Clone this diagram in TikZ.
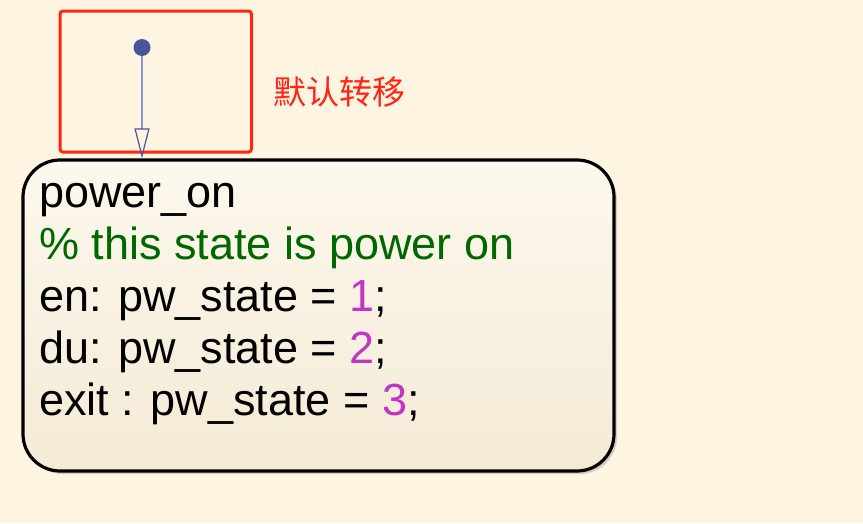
\documentclass[tikz,border=0pt]{standalone}
\usepackage{fontspec}
\setmainfont{Liberation Sans}
\newfontfamily\cjk{Noto Sans CJK SC}
\usetikzlibrary{arrows.meta,shadows}
\definecolor{paper}{RGB}{253,244,225}
\definecolor{boxtop}{RGB}{253,248,237}
\definecolor{boxbottom}{RGB}{244,235,214}
\definecolor{framered}{RGB}{255,36,20}
\definecolor{dotblue}{RGB}{74,84,155}
\definecolor{wireblue}{RGB}{140,150,205}
\definecolor{commentgreen}{RGB}{0,104,0}
\definecolor{numpurple}{RGB}{196,52,196}
\NewDocumentCommand{\num}{m}{\textcolor{numpurple}{#1}}
\tikzset{/SF/state/.style={
	shape=rectangle, rounded corners=37pt, draw=black, line width=3.2pt,
	top color=boxtop, bottom color=boxbottom,
	drop shadow={shadow xshift=3pt, shadow yshift=-3pt, opacity=0.22, fill=black!70}
}}
\tikzset{/SF/frame/.style={
	shape=rectangle, rounded corners=3pt, draw=framered, line width=3pt
}}
\tikzset{/SF/line/.style={
	anchor=base west, inner sep=0pt, font=\fontsize{45}{52}\selectfont
}}

\begin{document}
\begin{tikzpicture}
			\fill[paper] (0,0) rectangle (863pt,-523pt);
			\useasboundingbox (0,0) rectangle (863pt,-523pt);
			\path (155.75pt,-81.5pt) node[/SF/frame, minimum width=191.5pt, minimum height=141pt] (frame) {};
			\path (318.5pt,-315.5pt) node[/SF/state, minimum width=591pt, minimum height=311pt] (state) {};
			\path (142pt,-47.5pt) node[shape=circle, fill=dotblue, minimum size=17pt, inner sep=0pt] (dot) {};
			\draw[wireblue, line width=1.2pt, -{Triangle[open, length=30pt, width=15pt, color=dotblue]}]
				(dot) -- (dot |- state.north);
			\path (frame.east) ++(20.5pt,-11pt) node[anchor=west, inner sep=0pt, text=framered, font=\cjk\fontsize{33}{36}\selectfont] (label) {默认转移};
			% state text, one line per node
			\path (state.north west) ++(17.5pt,-49pt) node[/SF/line] (name) {power\_on};
			\path (name.base west) ++(0,-52pt) node[/SF/line, text=commentgreen] (comment) {\% this state is power on};
			\path (comment.base west) ++(0,-52pt) node[/SF/line] (entry) {en: pw\_state = \num{1};};
			\path (entry.base west) ++(0,-52pt) node[/SF/line] (during) {du: pw\_state = \num{2};};
			\path (during.base west) ++(0,-52pt) node[/SF/line] (exit) {exit : pw\_state = \num{3};};
		\end{tikzpicture}
\end{document}
